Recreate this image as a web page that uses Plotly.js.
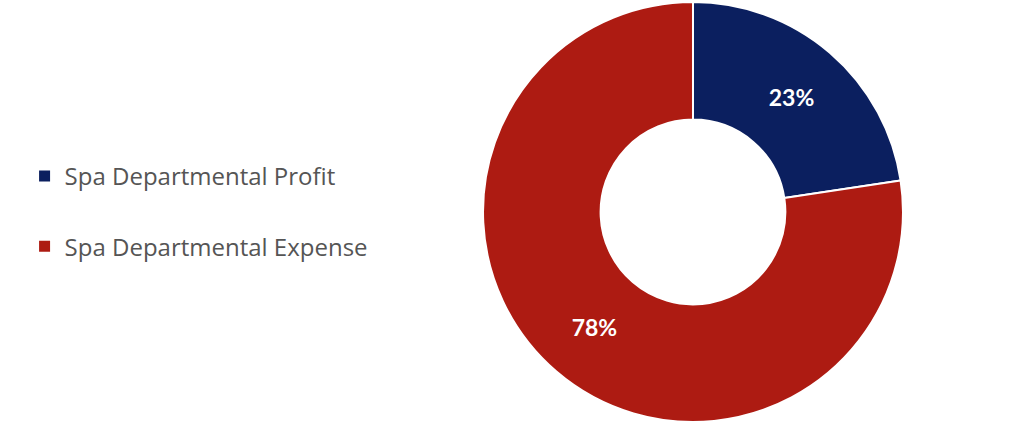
<!DOCTYPE html>
<html>
<head>
<meta charset="utf-8">
<script src="https://cdn.plot.ly/plotly-3.0.1.min.js"></script>
<style>
html,body{margin:0;padding:0;background:#fff;}
#chart{width:1024px;height:423px;}
</style>
</head>
<body>
<div id="chart"></div>
<script>
const categories = ["Spa Departmental Profit", "Spa Departmental Expense"];
const values = [22.6, 77.4];
const percentLabels = ["23%", "78%"];
const colors = ["#0b1f5f", "#ad1b12"];

const pie = {
  type: "pie",
  labels: categories,
  values: values,
  text: percentLabels,
  textinfo: "text",
  hoverinfo: "label+text",
  textposition: "inside",
  insidetextorientation: "horizontal",
  textfont: {family: "Lato, 'Open Sans', sans-serif", size: 23, color: "#ffffff", weight: 700},
  marker: {colors: colors, line: {color: "#ffffff", width: 2}},
  hole: 0.44,
  sort: false,
  direction: "clockwise",
  rotation: 0,
  showlegend: false,
  domain: {x: [0.4717, 0.8818], y: [0.0024, 0.9953]}
};

const legendTraces = categories.map((c, i) => ({
  type: "scatter",
  mode: "markers",
  x: [null], y: [null],
  name: c,
  legendgroup: "g" + i,
  marker: {symbol: "square", size: 11, color: colors[i]},
  showlegend: true,
  hoverinfo: "skip"
}));

const layout = {
  width: 1024, height: 423,
  margin: {l: 0, r: 0, t: 0, b: 0},
  paper_bgcolor: "#ffffff",
  plot_bgcolor: "#ffffff",
  xaxis: {visible: false, domain: [0, 0.01]},
  yaxis: {visible: false, domain: [0, 0.01]},
  showlegend: true,
  legend: {
    x: 0.024, y: 0.5, xanchor: "left", yanchor: "middle",
    font: {family: "'Open Sans', Lato, sans-serif", size: 24, color: "#555555"},
    tracegroupgap: 36,
    bgcolor: "rgba(0,0,0,0)"
  }
};

Plotly.newPlot("chart", [pie, ...legendTraces], layout, {displayModeBar: false, staticPlot: true});
</script>
</body>
</html>
